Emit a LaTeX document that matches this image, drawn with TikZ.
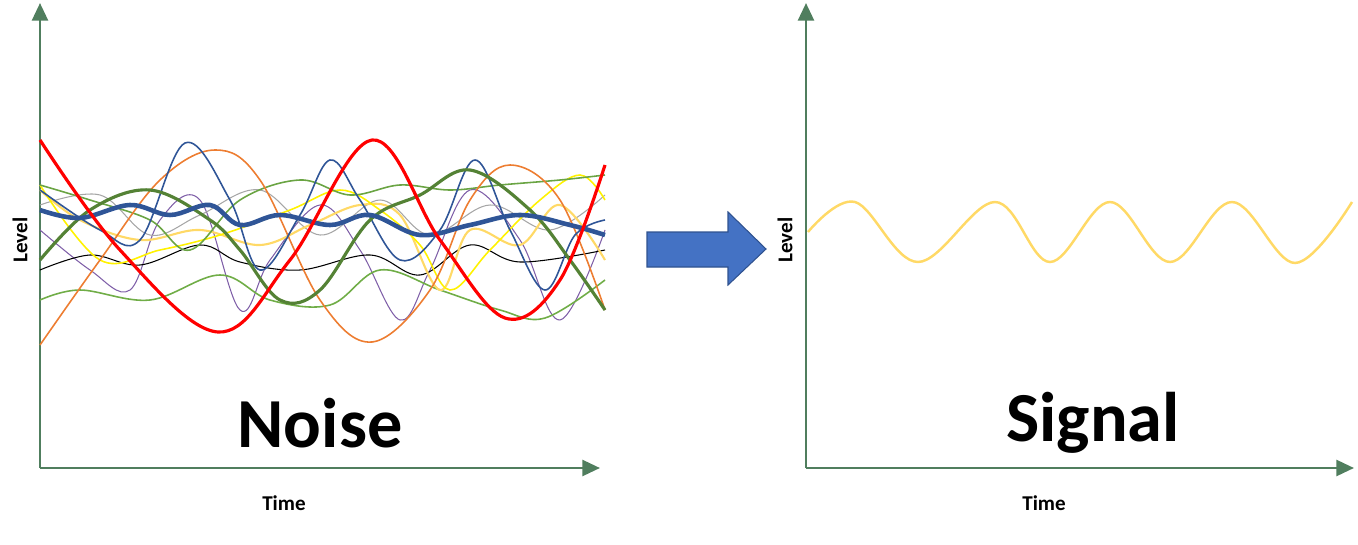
\documentclass[tikz,border=0pt]{standalone}
\usepackage{fontspec}
\setmainfont{Carlito}
\usetikzlibrary{arrows.meta}
\definecolor{axisgreen}{HTML}{507E5E}
\definecolor{sigyellow}{HTML}{FFD966}
\definecolor{bluefill}{HTML}{4472C4}
\definecolor{blueline}{HTML}{2F528F}
\definecolor{darkblue}{HTML}{2F5597}
\definecolor{olive}{HTML}{548235}
\definecolor{lgreen}{HTML}{70AD47}
\definecolor{ornge}{HTML}{ED7D31}
\definecolor{violetline}{HTML}{7F5FA8}
\tikzset{
  axis/.style={draw=axisgreen,line width=1.6pt,-{Triangle[length=10pt,width=9pt]}},
  wave/.style={smooth,tension=0.6,line width=0.9pt},
  axlabel/.style={font=\bfseries\large},
  bigword/.style={font=\bfseries\fontsize{40}{44}\selectfont}
}
\begin{document}
\begin{tikzpicture}[x=0.02cm,y=-0.02cm]
\useasboundingbox (0,0) rectangle (1358,544);
% axes
\coordinate (o1) at (40,468);
\coordinate (y1) at (40,3);
\coordinate (x1) at (600,468);
\coordinate (o2) at (806,468);
\coordinate (y2) at (806,3);
\coordinate (x2) at (1354,468);
\draw[axis] (o1) -- (y1);
\draw[axis] (o1) -- (x1);
\draw[axis] (o2) -- (y2);
\draw[axis] (o2) -- (x2);
% labels
\node[axlabel,rotate=90] (lev1) at (20,240) {Level};
\node[axlabel,rotate=90] (lev2) at (785,240) {Level};
\node[axlabel] (time1) at (284,503) {Time};
\node[axlabel] (time2) at (1044,503) {Time};
\node[bigword] (noise) at (320,423) {Noise};
\node[bigword] (signal) at (1093,423) {Signal};
% block arrow
\draw[draw=blueline,fill=bluefill,line width=0.6pt]
  (647,232) -- (728,232) -- (728,212) -- (766,249) -- (728,285) -- (728,267) -- (647,267) -- cycle;
% noise
\draw[wave,violetline,line width=0.6pt] plot coordinates {(40,230) (90,270) (130,290) (160,220) (200,200) (240,310) (270,260) (320,205) (360,250) (400,320) (430,270) (470,190) (520,240) (560,320) (605,230)};
\draw[wave,gray!70,line width=0.6pt] plot coordinates {(40,205) (100,195) (150,235) (200,215) (260,190) (320,235) (380,200) (430,235) (490,205) (550,230) (605,195)};
\draw[wave,lgreen] plot coordinates {(40,300) (80,290) (150,300) (220,275) (270,300) (330,305) (380,270) (440,290) (500,310) (545,318) (605,280)};
\draw[wave,black,line width=0.6pt] plot coordinates {(40,270) (90,255) (140,265) (200,245) (240,262) (300,270) (370,255) (420,275) (470,245) (520,262) (605,250)};
\draw[wave,sigyellow,line width=1.2pt] plot coordinates {(40,190) (80,220) (140,240) (200,230) (260,245) (310,225) (360,205) (400,215) (440,290) (470,230) (520,245) (560,205) (605,260)};
\draw[wave,yellow] plot coordinates {(40,185) (100,260) (160,250) (220,235) (290,210) (340,190) (380,210) (420,245) (450,290) (490,250) (540,200) (580,175) (605,200)};
\draw[wave,lgreen!80!olive] plot coordinates {(40,185) (90,200) (150,220) (190,250) (240,200) (300,180) (350,195) (400,185) (450,190) (500,185) (560,180) (605,175)};
\draw[wave,ornge] plot coordinates {(40,345) (100,260) (160,180) (215,150) (260,180) (320,300) (372,342) (430,290) (470,200) (510,165) (560,200) (605,310)};
\draw[wave,darkblue] plot coordinates {(40,190) (100,230) (140,240) (185,143) (230,200) (260,270) (300,215) (330,160) (360,200) (400,260) (440,230) (475,160) (510,230) (545,290) (575,235) (605,220)};
\draw[wave,olive,line width=1.8pt] plot coordinates {(40,260) (90,210) (150,190) (210,220) (240,250) (280,300) (320,290) (370,220) (420,195) (470,170) (530,210) (570,260) (605,310)};
\draw[wave,darkblue,line width=2.6pt] plot coordinates {(40,210) (80,218) (130,205) (170,215) (210,205) (240,225) (280,215) (330,225) (370,215) (420,235) (470,225) (520,215) (570,225) (605,235)};
\draw[wave,red,line width=1.8pt] plot coordinates {(40,140) (120,250) (218,332) (290,260) (372,140) (440,240) (505,318) (560,280) (605,165)};
% signal
\draw[wave,sigyellow,line width=1.4pt] plot coordinates {(808,232) (855,202) (918,262) (995,202) (1050,262) (1110,202) (1170,262) (1232,202) (1295,263) (1352,202)};
\end{tikzpicture}
\end{document}
